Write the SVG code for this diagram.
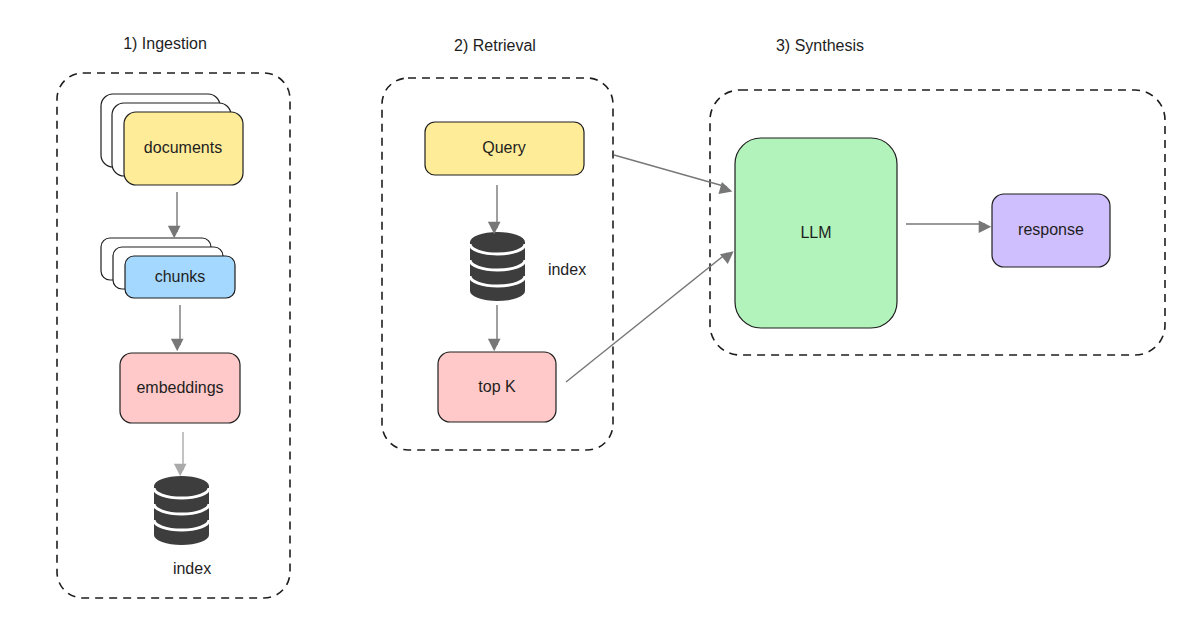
<svg xmlns="http://www.w3.org/2000/svg" width="1200" height="620" viewBox="0 0 1200 620">
<defs>
<style>
text{font-family:"Liberation Sans",Arial,sans-serif;font-size:16px;fill:#1e1e1e;text-anchor:middle;dominant-baseline:middle}
.grp{fill:none;stroke:#1e1e1e;stroke-width:1.6;stroke-dasharray:8 6}
.n{stroke:#1e1e1e;stroke-width:1.2}
.bk{fill:#fff;stroke:#1e1e1e;stroke-width:1.2}
.c{stroke:#777;stroke-width:1.4;fill:none;marker-end:url(#ah)}
.cl{stroke:#aaa;stroke-width:1.4;fill:none;marker-end:url(#ahl)}
.db{fill:#3d3d3d}
.dbl{stroke:#fff;stroke-width:3;fill:none}
</style>
<marker id="ah" viewBox="0 0 10 10" refX="9" refY="5" markerWidth="7" markerHeight="7" orient="auto" markerUnits="userSpaceOnUse" style="overflow:visible"><path d="M0 0L10 5L0 10z" fill="#777" transform="scale(1.8)"/></marker>
<marker id="ahl" viewBox="0 0 10 10" refX="9" refY="5" markerWidth="7" markerHeight="7" orient="auto" markerUnits="userSpaceOnUse" style="overflow:visible"><path d="M0 0L10 5L0 10z" fill="#aaa" transform="scale(1.8)"/></marker>
<g id="dbicon">
<path class="db" d="M0 10 A27.5 10 0 0 1 55 10 V59 A27.5 10 0 0 1 0 59 Z"/>
<path class="dbl" d="M0 12 A27.5 10 0 0 0 55 12 M0 28 A27.5 10 0 0 0 55 28 M0 44 A27.5 10 0 0 0 55 44"/>
</g>
</defs>
<rect width="1200" height="620" fill="#fff"/>

<g id="ingestion">
<rect class="grp" x="57" y="73" width="233" height="525" rx="26"/>
<text x="165" y="45">1) Ingestion</text>
</g>
<g id="documents">
<rect class="bk" x="101" y="94" width="119" height="73" rx="12"/>
<rect class="bk" x="112" y="103" width="119" height="73" rx="12"/>
<rect class="n" x="124" y="112" width="119" height="73" rx="12" fill="#ffec99"/>
<text x="183" y="149">documents</text>
</g>
<g id="chunks">
<rect class="bk" x="101" y="238" width="110" height="42" rx="9"/>
<rect class="bk" x="113" y="247" width="110" height="42" rx="9"/>
<rect class="n" x="125" y="256" width="110" height="42" rx="9" fill="#a5d8ff"/>
<text x="180" y="278">chunks</text>
</g>
<g id="embeddings">
<rect class="n" x="120" y="353" width="120" height="70" rx="12" fill="#ffc9c9"/>
<text x="180" y="389">embeddings</text>
</g>
<g id="index1">
<use href="#dbicon" x="154" y="476"/>
<text x="192" y="570">index</text>
</g>

<g id="retrieval">
<rect class="grp" x="382" y="78" width="231" height="372" rx="26"/>
<text x="495" y="47">2) Retrieval</text>
</g>
<g id="query">
<rect class="n" x="425" y="122" width="159" height="53" rx="10" fill="#ffec99"/>
<text x="504" y="149">Query</text>
</g>
<g id="index2">
<use href="#dbicon" x="470" y="232"/>
<text x="567" y="271">index</text>
</g>
<g id="topk">
<rect class="n" x="438" y="352" width="118" height="70" rx="12" fill="#ffc9c9"/>
<text x="497" y="388">top K</text>
</g>

<g id="synthesis">
<rect class="grp" x="710" y="90" width="455" height="265" rx="30"/>
<text x="820" y="47">3) Synthesis</text>
</g>
<g id="llm">
<rect class="n" x="735" y="138" width="162" height="190" rx="26" fill="#b2f2bb"/>
<text x="816" y="234">LLM</text>
</g>
<g id="response">
<rect class="n" x="992" y="194" width="118" height="73" rx="12" fill="#d0bfff"/>
<text x="1051" y="231">response</text>
</g>

<g id="connectors">
<line class="c" x1="177" y1="192" x2="177" y2="232"/>
<line class="c" x1="180" y1="305" x2="180" y2="345"/>
<line class="cl" x1="183" y1="432" x2="183" y2="470"/>
<line class="c" x1="497" y1="185" x2="497" y2="228"/>
<line class="c" x1="497" y1="305" x2="497" y2="345"/>
<line class="c" x1="614" y1="155" x2="727" y2="187"/>
<line class="c" x1="566" y1="382" x2="727" y2="253"/>
<line class="c" x1="906" y1="224" x2="985" y2="224"/>
</g>
</svg>
